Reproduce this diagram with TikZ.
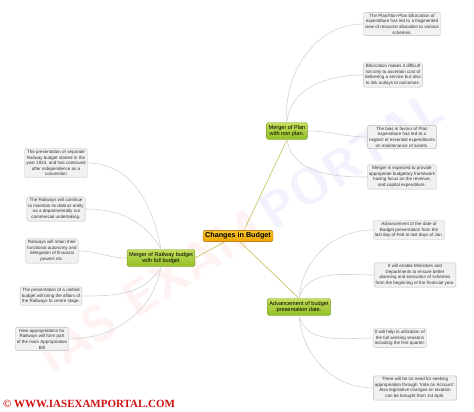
\documentclass[tikz,border=0pt]{standalone}
\usepackage{fontspec}
\setmainfont{Liberation Sans}
\newfontfamily\footfont{Liberation Serif}
\usetikzlibrary{positioning}

\definecolor{leafline}{HTML}{BDBDBD}
\definecolor{leaffill}{HTML}{F1F1F1}
\definecolor{twig}{HTML}{D2D2D2}
\definecolor{stem}{HTML}{C9C46A}
\definecolor{footred}{HTML}{D01010}
\definecolor{greentop}{HTML}{C4DE5C}
\definecolor{greenbot}{HTML}{92BE26}
\definecolor{greenline}{HTML}{7E9F2A}
\definecolor{goldtop}{HTML}{F8C62A}
\definecolor{goldbot}{HTML}{EBA400}

\begin{document}
\begin{tikzpicture}[x=1pt, y=-1pt,
    leaf/.style={draw=leafline, fill=leaffill, rounded corners=1.5pt, align=center,
      font=\fontsize{4.5}{5.6}\selectfont, inner sep=1.6pt, text=black!80},
    branch/.style={draw=greenline, rounded corners=2pt, align=center,
      top color=greentop, bottom color=greenbot,
      font=\fontsize{5.6}{6.6}\selectfont, inner sep=2pt, minimum height=17pt},
    hub/.style={draw=orange!70!black, rounded corners=2pt, top color=goldtop,
      bottom color=goldbot, font=\fontsize{7.2}{8}\selectfont\bfseries,
      inner sep=2.2pt},
    twigline/.style={draw=twig, line width=0.6pt},
    stemline/.style={draw=stem, line width=0.7pt},
  ]
  \useasboundingbox (0,0) rectangle (474,412);

  % watermark
  \node[rotate=33, font=\fontsize{50}{50}\selectfont\sffamily\bfseries, opacity=0.05]
    (mark) at (240,232) {\textcolor{red}{IAS EXAM}\,\textcolor{blue}{PORTAL}};

  % centre and branches
  \node[hub] (budget) at (238,236) {Changes in Budget};
  \node[branch] (plan) at (287,131) {Merger of Plan\\with non plan.};
  \node[branch] (rail) at (161,258) {Merger of Railway budget\\with full budget};
  \node[branch] (adv) at (299,307) {Advancement of budget\\presentation date.};

  \draw[stemline] (budget.north) ++(6,0) -- (plan.south);
  \draw[stemline] (budget.south west) ++(22,0) -- (rail.east);
  \draw[stemline] (budget.south) ++(2,0) -- (adv.north);

  % plan leaves
  \node[leaf] (p1) at (402,24) {The Plan/Non-Plan bifurcation of\\expenditure has led to a fragmented\\view of resource allocation to various\\schemes.};
  \node[leaf] (p2) at (393,75) {Bifurcation makes it difficult\\not only to ascertain cost of\\delivering a service but also\\to link outlays to outcomes.};
  \node[leaf] (p3) at (402,137) {The bias in favour of Plan\\expenditure has led to a\\neglect of essential expenditures\\on maintenance of assets.};
  \node[leaf] (p4) at (402,177) {Merger is expected to provide\\appropriate budgetary framework\\having focus on the revenue,\\and capital expenditure.};

  % advancement leaves
  \node[leaf] (a1) at (409,230) {Advancement of the date of\\Budget presentation from the\\last day of Feb to last days of Jan.};
  \node[leaf] (a2) at (415,275) {It will enable Ministries and\\Departments to ensure better\\planning and execution of schemes\\from the beginning of the financial year.};
  \node[leaf] (a3) at (400,338) {It will help in utilization of\\the full working seasons\\including the first quarter.};
  \node[leaf] (a4) at (415,388) {There will be no need for seeking\\appropriation through `Vote on Account'.\\Also legislative changes on taxation\\can be brought from 1st April.};

  % railway leaves
  \node[leaf] (r1) at (56,163) {The presentation of separate\\Railway budget started in the\\year 1924, and has continued\\after independence as a\\convention};
  \node[leaf] (r2) at (56,209) {The Railways will continue\\to maintain its distinct entity\\-as a departmentally run\\commercial undertaking.};
  \node[leaf] (r3) at (52,251) {Railways will retain their\\functional autonomy and\\delegation of financial\\powers etc.};
  \node[leaf] (r4) at (51,296) {The presentation of a unified\\budget will bring the affairs of\\the Railways to centre stage.};
  \node[leaf] (r5) at (42,339) {New appropriations for\\Railways will form part\\of the main Appropriation\\Bill};

  \draw[twigline] (plan.north) to[out=95, in=180] (p1.west);
  \draw[twigline] (plan.north) to[out=85, in=180] (p2.west);
  \draw[twigline] (plan.east) to[out=0, in=180] (p3.west);
  \draw[twigline] (plan.south) to[out=-80, in=180] (p4.west);

  \draw[twigline] (adv.north) to[out=85, in=180] (a1.west);
  \draw[twigline] (adv.north) to[out=75, in=180] (a2.west);
  \draw[twigline] (adv.south) to[out=-75, in=180] (a3.west);
  \draw[twigline] (adv.south) to[out=-85, in=180] (a4.west);

  \draw[twigline] (rail.north) to[out=100, in=0] (r1.east);
  \draw[twigline] (rail.north) to[out=120, in=0] (r2.east);
  \draw[twigline] (rail.west) to[out=180, in=0] (r3.east);
  \draw[twigline] (rail.south) to[out=-120, in=0] (r4.east);
  \draw[twigline] (rail.south) to[out=-100, in=0] (r5.east);

  % footer
  \node[anchor=west, text=footred, font=\footfont\fontsize{11}{12}\selectfont\bfseries,
    inner sep=0pt] (site) at (3,404) {© WWW.IASEXAMPORTAL.COM};
\end{tikzpicture}
\end{document}
